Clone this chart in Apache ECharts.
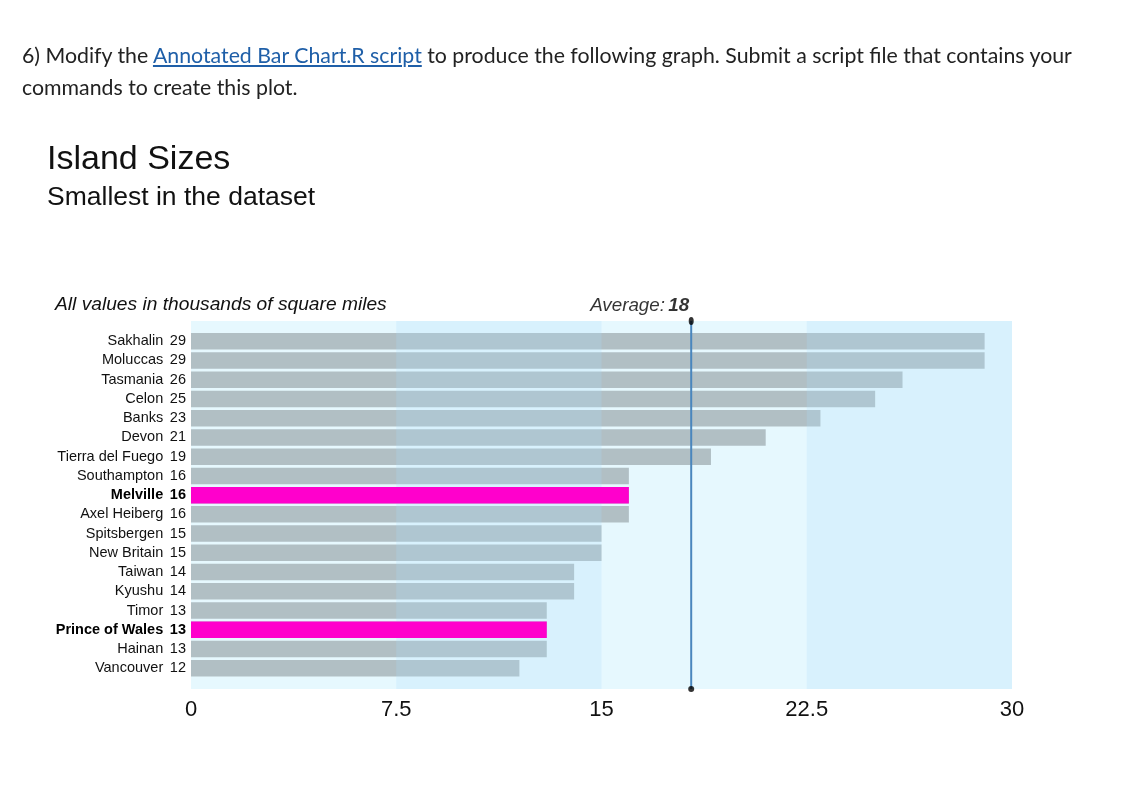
<!DOCTYPE html>
<html>
<head>
<meta charset="utf-8">
<script src="https://cdn.jsdelivr.net/npm/echarts@6/dist/echarts.min.js"></script>
<style>
  html, body { margin: 0; padding: 0; background: #fff; }
  #wrap { position: relative; width: 1138px; height: 802px; overflow: hidden; }
  #chart { position: absolute; left: 0; top: 0; width: 1138px; height: 802px; }
  #q { position: absolute; left: 22px; top: 39px; width: 1110px; font-family: Lato, "Open Sans", sans-serif;
       font-size: 21.3px; line-height: 32px; color: #222; z-index: 2; white-space: nowrap; }
  #q a { color: #1f5fa8; text-decoration: underline; }
</style>
</head>
<body>
<div id="wrap">
  <div id="chart"></div>
  <div id="q">6) Modify the <a>Annotated Bar Chart.R script</a> to produce the following graph. Submit a script file that contains your<br>commands to create this plot.</div>
</div>
<script>
const islands = ['Sakhalin','Moluccas','Tasmania','Celon','Banks','Devon','Tierra del Fuego','Southampton','Melville','Axel Heiberg','Spitsbergen','New Britain','Taiwan','Kyushu','Timor','Prince of Wales','Hainan','Vancouver'];
const areas = [29,29,26,25,23,21,19,16,16,16,15,15,14,14,13,13,13,12];
const highlighted = ['Melville','Prince of Wales'];
const xTicks = [0, 7.5, 15, 22.5, 30];
const titleText = 'Island Sizes';
const subtitleText = 'Smallest in the dataset';
const noteText = 'All values in thousands of square miles';

const avg = areas.reduce((a, b) => a + b, 0) / areas.length;
const FONT = '"Liberation Sans", Arial, sans-serif';

const chart = echarts.init(document.getElementById('chart'), null, { renderer: 'canvas' });

const lightBand = '#e6f8fe';
const darkOverlay = 'rgba(172,221,250,0.24)';
const darkBands = [];
for (let i = 1; i < xTicks.length - 1; i += 2) {
  darkBands.push([{ xAxis: xTicks[i] }, { xAxis: xTicks[i + 1] }]);
}

const option = {
  animation: false,
  backgroundColor: '#fff',
  graphic: [
    { type: 'text', left: 47, top: 143, style: { text: titleText, font: '34px ' + FONT, fill: '#111' } },
    { type: 'text', left: 47, top: 184, style: { text: subtitleText, font: '26.5px ' + FONT, fill: '#111' } },
    { type: 'text', left: 55, top: 295, style: { text: noteText, font: 'italic 19.2px ' + FONT, fill: '#111' } }
  ],
  grid: [
    { left: 191, right: 126, top: 321, bottom: 113 },
    { left: 191, right: 126, top: 331.6, bottom: 124.1 }
  ],
  xAxis: [
    { type: 'value', gridIndex: 0, min: xTicks[0], max: xTicks[xTicks.length - 1], interval: 7.5,
      axisLine: { show: false }, axisTick: { show: false }, splitLine: { show: false },
      axisLabel: { fontSize: 22, color: '#111', fontFamily: FONT, margin: 10 } },
    { type: 'value', gridIndex: 1, min: xTicks[0], max: xTicks[xTicks.length - 1], show: false }
  ],
  yAxis: [
    { type: 'value', gridIndex: 0, min: 0, max: 1, show: false },
    { type: 'category', gridIndex: 1, data: islands, inverse: true,
      axisLine: { show: false }, axisTick: { show: false },
      axisLabel: {
        margin: 5,
        formatter: function (v, i) {
          const b = highlighted.indexOf(v) >= 0;
          return b ? '{nb|' + v + '}  {vb|' + areas[i] + '}' : '{n|' + v + '}  {v|' + areas[i] + '}';
        },
        rich: {
          n: { fontSize: 14.5, color: '#111', fontFamily: FONT },
          v: { fontSize: 14.5, color: '#111', fontFamily: FONT },
          nb: { fontSize: 14.5, color: '#000', fontFamily: FONT, fontWeight: 'bold' },
          vb: { fontSize: 14.5, color: '#000', fontFamily: FONT, fontWeight: 'bold' }
        }
      } }
  ],
  series: [
    { name: 'base', type: 'line', xAxisIndex: 0, yAxisIndex: 0, data: [], z: 0, silent: true,
      markArea: { silent: true, z: 0, itemStyle: { color: lightBand }, data: [[{ xAxis: xTicks[0] }, { xAxis: xTicks[xTicks.length - 1] }]] } },
    { name: 'area', type: 'bar', xAxisIndex: 1, yAxisIndex: 1, data: areas, barWidth: 16.5, z: 2,
      itemStyle: { color: '#b1bfc4' } },
    { name: 'bands', type: 'line', xAxisIndex: 0, yAxisIndex: 0, data: [], z: 3, silent: true,
      markArea: { silent: true, z: 3, itemStyle: { color: darkOverlay }, data: darkBands } },
    { name: 'highlight', type: 'bar', xAxisIndex: 1, yAxisIndex: 1, barWidth: 16.5, barGap: '-100%', z: 4,
      data: islands.map((n, i) => highlighted.indexOf(n) >= 0 ? areas[i] : '-'),
      itemStyle: { color: '#ff00cc' } },
    { name: 'avgline', type: 'line', xAxisIndex: 0, yAxisIndex: 0, data: [[avg, 0], [avg, 1]], z: 5,
      symbol: 'none', lineStyle: { color: '#4a86bd', width: 2 } },
    { name: 'avgdots', type: 'scatter', xAxisIndex: 0, yAxisIndex: 0, z: 6, clip: false,
      itemStyle: { color: '#000' }, symbolSize: 6,
      data: [
        { value: [avg, 0] },
        { value: [avg, 1], symbolSize: [5, 8],
          label: { show: true, position: 'top', align: 'right', distance: 2, offset: [-2, 0],
            formatter: '{a|Average:} {b|' + Math.round(avg) + '}',
            rich: {
              a: { fontSize: 18.8, fontStyle: 'italic', color: '#000', fontFamily: FONT },
              b: { fontSize: 18.8, fontStyle: 'italic', fontWeight: 'bold', color: '#000', fontFamily: FONT }
            } } }
      ] }
  ]
};
chart.setOption(option);
</script>
</body>
</html>
